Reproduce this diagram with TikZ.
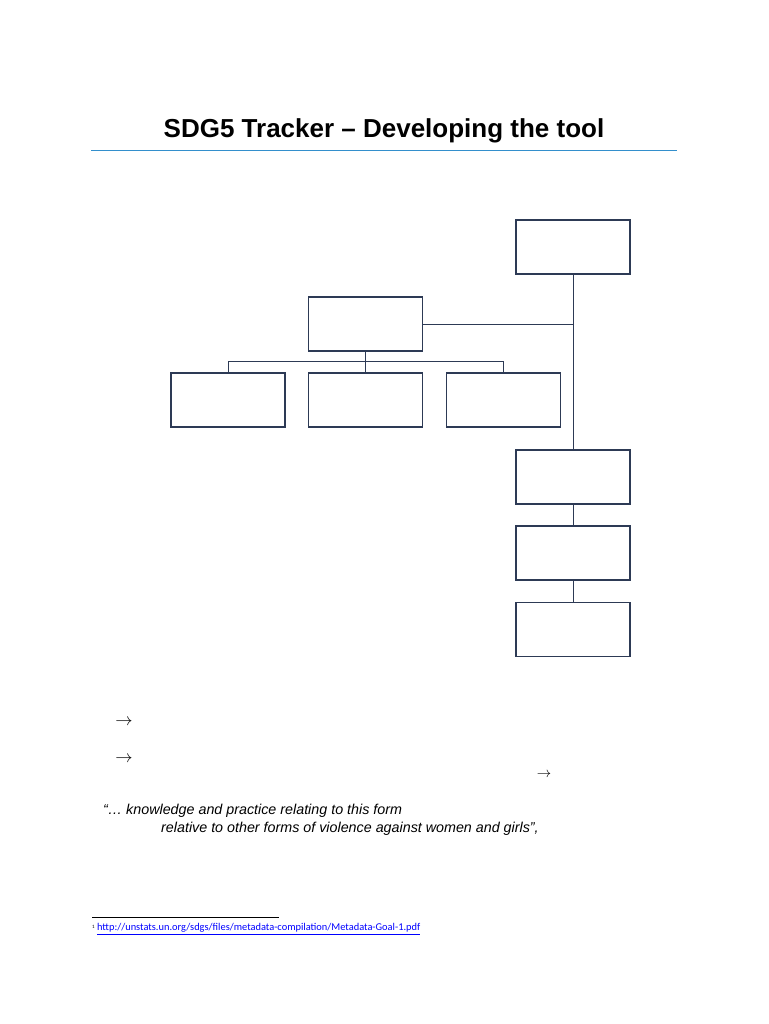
\documentclass[tikz,border=0pt]{standalone}
\usepackage{fontspec}
\setmainfont{Liberation Sans}
\newfontfamily\calibri{Carlito}
\definecolor{boxc}{RGB}{45,58,85}
\begin{document}
\begin{tikzpicture}[x=1pt,y=-1pt,
  bx/.style={draw=boxc, line width=1.4pt, minimum width=114pt, minimum height=54pt, inner sep=0pt},
  ln/.style={draw=boxc, line width=0.8pt}]
\useasboundingbox (0,0) rectangle (768,1024);
\node[font=\bfseries\fontsize{26}{30}\selectfont] (title) at (384,131) {SDG5 Tracker -- Developing the tool};
\coordinate (ul) at (91,150); \coordinate (ur) at (677,150);
\draw[draw=blue!40!cyan!60!gray, line width=0.7pt] (ul) -- (ur);
\node[bx] (top) at (573,247) {};
\node[bx] (mid) at (365.5,324) {};
\node[bx] (c1) at (228,400) {};
\node[bx] (c2) at (365.5,400) {};
\node[bx] (c3) at (503.5,400) {};
\node[bx] (r1) at (573,477) {};
\node[bx] (r2) at (573,553) {};
\node[bx] (r3) at (573,629.5) {};
\draw[ln] (top.south) -- (r1.north);
\draw[ln] (mid.east) -- (mid.east -| top.south);
\draw[ln] (mid.south) -- ++(0,10) -| (c1.north);
\draw[ln] (mid.south) -- ++(0,10) -| (c3.north);
\draw[ln] (mid.south) -- (c2.north);
\draw[ln] (r1.south) -- (r2.north);
\draw[ln] (r2.south) -- (r3.north);
\node[font=\fontsize{17}{18}\selectfont] (a1) at (124,722) {$\rightarrow$};
\node[font=\fontsize{17}{18}\selectfont] (a2) at (124,759) {$\rightarrow$};
\node[font=\fontsize{14}{16}\selectfont] (a3) at (544,775) {$\rightarrow$};
\node[anchor=west, font=\itshape\fontsize{14.3}{16}\selectfont, inner sep=0pt] (q1) at (103,811) {“… knowledge and practice relating to this form};
\node[anchor=west, font=\itshape\fontsize{14.3}{16}\selectfont, inner sep=0pt] (q2) at (161,829) {relative to other forms of violence against women and girls”,};
\coordinate (fl) at (92,917); \coordinate (fr) at (279,917);
\draw[line width=0.8pt] (fl) -- (fr);
\node[anchor=west, inner sep=0pt, font=\calibri\fontsize{10.4}{11}\selectfont] (fn) at (92,929) {\raisebox{0.5ex}{\tiny 1} \textcolor{blue}{\underline{http://unstats.un.org/sdgs/files/metadata-compilation/Metadata-Goal-1.pdf}}};
\end{tikzpicture}
\end{document}
